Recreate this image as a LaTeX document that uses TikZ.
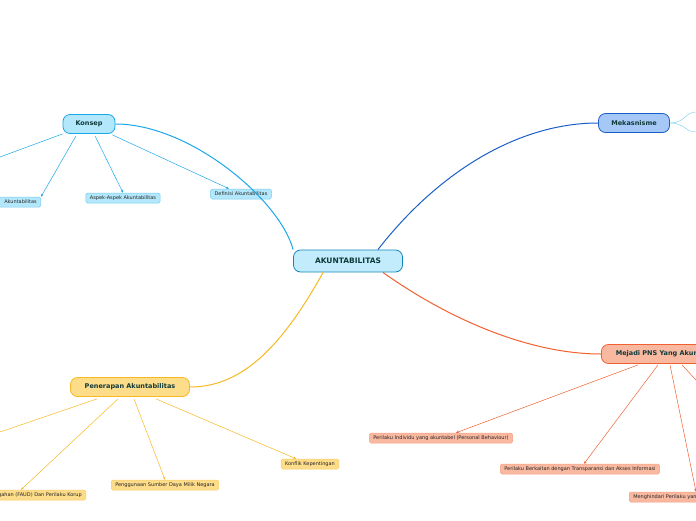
\documentclass[tikz,border=0pt]{standalone}
\usepackage{fontspec}
\setmainfont{DejaVu Sans}
\usetikzlibrary{calc,arrows.meta}
\definecolor{cB}{HTML}{1AA7E8}\definecolor{cBf}{HTML}{B3E7FB}
\definecolor{cM}{HTML}{1A5FC8}\definecolor{cMf}{HTML}{A6C8F7}
\definecolor{cY}{HTML}{F7B822}\definecolor{cYf}{HTML}{FDDC8A}
\definecolor{cR}{HTML}{F06030}\definecolor{cRf}{HTML}{F9B8A0}
\definecolor{txt}{HTML}{0E3A3A}
\tikzset{
 mainbox/.style={rounded corners=7pt,line width=0.8pt,minimum height=19pt,inner xsep=9pt,font=\fontsize{6.5}{7}\selectfont\bfseries,text=txt},
 sub/.style={rounded corners=1.5pt,line width=0.5pt,minimum height=10pt,inner xsep=4pt,inner ysep=1pt,font=\fontsize{5}{6}\selectfont,text=black!85},
 arr/.style={line width=0.5pt,-{Stealth[length=3pt,width=2.5pt]}},
 link/.style={line width=1pt}
}
\begin{document}
\begin{tikzpicture}[x=1pt,y=-1pt]
\useasboundingbox (0,0) rectangle (696,520);
\clip (0,0) rectangle (696,520);
% central
\node[mainbox,draw=cB!80!black,fill=cBf!80!white,minimum width=109pt,minimum height=22pt,font=\fontsize{7.5}{8}\selectfont\bfseries] (c) at (348,261) {AKUNTABILITAS};
% Konsep
\node[mainbox,draw=cB,fill=cBf,minimum width=52pt] (k) at (89,124) {Konsep};
\node[sub,draw=cB!60,fill=cBf,anchor=east,text width=70pt,align=right] (k1) at (41,202) {Akuntabilitas};
\node[sub,draw=cB!60,fill=cBf] (k2) at (123,198) {Aspek-Aspek Akuntabilitas};
\node[sub,draw=cB!60,fill=cBf] (k3) at (241,194) {Definisi Akuntabilitas};
\coordinate (k0) at (0,157);
\draw[link,cB] (k.east) .. controls (190,124) and (280,200) .. (c.north west);
\draw[line width=0.5pt,cB] ($(k.south west)+(0,0)$) -- (k0);
\draw[arr,cB] ($(k.south)+(-13,2)$) -- (k1.north east);
\draw[arr,cB] ($(k.south)+(6,2)$) -- (k2.north);
\draw[arr,cB] ($(k.south east)+(-3,1)$) -- ($(k3.north)+(-12,0)$);
% Mekasnisme
\node[mainbox,draw=cM,fill=cMf,minimum width=71pt] (m) at (634,123) {Mekasnisme};
\coordinate (m1) at (696,112); \coordinate (m2) at (696,132);
\draw[link,cM] ($(c.north east)+(-25,0)$) .. controls (440,170) and (520,123) .. (m.west);
\draw[line width=0.4pt,cB!60] (m.east) .. controls (685,123) and (685,112) .. (m1);
\draw[line width=0.4pt,cB!60] (m.east) .. controls (685,123) and (685,132) .. (m2);
% Penerapan
\node[mainbox,draw=cY,fill=cYf,minimum width=119pt] (p) at (130,387) {Penerapan Akuntabilitas};
\node[sub,draw=cY!70,fill=cYf,anchor=east] (p1) at (86,495) {Pendidikan Anti Korupsi Dan Pencegahan (FAUD) Dan Perilaku Korup};
\node[sub,draw=cY!70,fill=cYf] (p2) at (165,485) {Penggunaan Sumber Daya Milik Negara};
\node[sub,draw=cY!70,fill=cYf] (p3) at (310,464) {Konflik Kepentingan};
\coordinate (p0) at (0,432);
\draw[link,cY] ($(c.south west)+(30,0)$) .. controls (280,350) and (240,387) .. (p.east);
\draw[line width=0.5pt,cY] ($(p.south)+(-33,2)$) -- (p0);
\draw[arr,cY] ($(p.south)+(-12,2)$) -- ($(p1.north east)+(-65,0)$);
\draw[arr,cY] ($(p.south)+(4,2)$) -- (p2.north);
\draw[arr,cY] ($(p.south)+(26,2)$) -- ($(p3.north)+(-14,0)$);
% Mejadi
\node[mainbox,draw=cR,fill=cRf,anchor=west,minimum width=130pt,align=left] (r) at (601,354) {Mejadi PNS Yang Akuntabel};
\node[sub,draw=cR!60,fill=cRf] (r1) at (441,438) {Perilaku Individu yang akuntabel (Personal Behaviour)};
\node[sub,draw=cR!60,fill=cRf] (r2) at (580,469) {Perilaku Berkaitan dengan Transparansi dan Akses Informasi};
\node[sub,draw=cR!60,fill=cRf,anchor=west] (r3) at (629,497) {Menghindari Perilaku yang Bertentangan};
\coordinate (r0) at (696,380);
\draw[link,cR] ($(c.south east)+(-20,0)$) .. controls (450,320) and (530,354) .. (r.west);
\draw[arr,cR] ($(r.south west)+(37,1)$) -- ($(r1.north)+(15,0)$);
\draw[arr,cR] ($(r.south west)+(57,1)$) -- ($(r2.north)+(4,0)$);
\draw[arr,cR] ($(r.south west)+(69,1)$) -- ($(r3.north west)+(67,0)$);
\draw[line width=0.5pt,cR] ($(r.south west)+(81,1)$) -- (r0);
\end{tikzpicture}
\end{document}
